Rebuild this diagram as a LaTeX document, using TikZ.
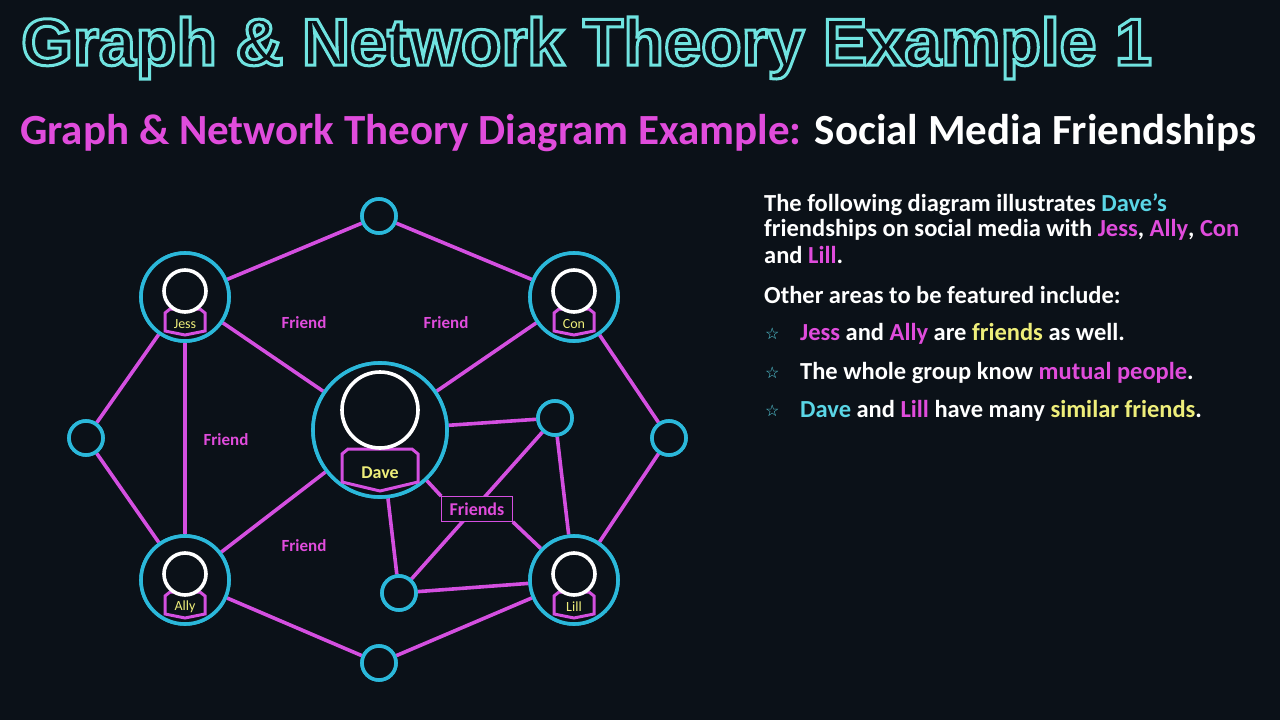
\documentclass[tikz,border=0pt]{standalone}
\usepackage{fontspec}
\setmainfont{Carlito}
\newfontfamily\titlefont{Liberation Sans}
\definecolor{bg}{HTML}{0B1118}
\definecolor{mag}{HTML}{D44FE0}
\definecolor{magt}{HTML}{E04CDC}
\definecolor{cy}{HTML}{2BB8DA}
\definecolor{cyt}{HTML}{5AD6E6}
\definecolor{yel}{HTML}{EEEE7A}
\definecolor{tcy}{HTML}{6FE3E0}
\begin{document}
\begin{tikzpicture}[x=1pt,y=-1pt,
  edge/.style={draw=mag,line width=3.6pt},
  small/.style={circle,draw=cy,line width=3.6pt,minimum size=34pt,inner sep=0pt,fill=bg},
  big/.style={circle,draw=cy,line width=3.6pt,minimum size=88pt,inner sep=0pt,fill=bg},
  huge/.style={circle,draw=cy,line width=3.6pt,minimum size=134pt,inner sep=0pt,fill=bg},
  lbl/.style={text=magt,font=\bfseries\fontsize{17}{19}\selectfont},
  frbox/.style={draw=mag,line width=1pt,fill=bg,text=magt,font=\bfseries\fontsize{18}{20}\selectfont,inner xsep=8pt,inner ysep=6pt}]
\fill[bg] (0,0) rectangle (1280,720);
\useasboundingbox (0,0) rectangle (1280,720);
% title
\node[anchor=west,inner sep=0pt,text=tcy,font=\titlefont\bfseries\fontsize{66.5}{70}\selectfont] (title) at (21,48)
 {\special{pdf:code 1 Tr 3 w 0.44 0.89 0.88 RG}Graph \& Network Theory Example 1\special{pdf:code 0 Tr}};
\node[anchor=west,inner sep=0pt,font=\bfseries\fontsize{43}{46}\selectfont] (sub) at (20,133)
 {\textcolor{magt}{Graph \& Network Theory Diagram Example:} \textcolor{white}{Social Media Friendships}};
% nodes
\node[small] (top) at (379,216) {};
\node[small] (left) at (86,438) {};
\node[small] (right) at (669,438) {};
\node[small] (bot) at (379,663) {};
\node[small] (s1) at (555,418) {};
\node[small] (s2) at (399,593) {};
\node[big] (jess) at (185,297) {};
\node[big] (con) at (574,297) {};
\node[big] (ally) at (185,580) {};
\node[big] (lill) at (574,580) {};
\node[huge] (dave) at (380,430) {};
\node[frbox] (fr) at (477,509) {Friends};
% edges
\foreach \a/\b in {top/jess,top/con,jess/left,left/ally,ally/bot,bot/lill,lill/right,right/con,jess/ally,jess/dave,con/dave,ally/dave,dave/s1,dave/s2,s2/s1,s2/lill,s1/lill}
  \draw[edge] (\a) -- (\b);
\draw[edge] (dave) -- (fr.north west);
\draw[edge] (fr.south east) -- (lill);
\node[frbox] at (477,509) {Friends};
% redraw circles over edges
\foreach \p in {{379,216},{86,438},{669,438},{379,663},{555,418},{399,593}}
  \node[small] at (\p) {};
\foreach \p/\t in {{185,297}/Jess,{574,297}/Con,{185,580}/Ally,{574,580}/Lill}{
  \begin{scope}[shift={(\p)}]
  \node[big] at (0,0) {};
  \draw[mag,line width=3pt] (-20,16) -- (-20,34) -- (0,38) -- (20,34) -- (20,16) -- (15,12) -- (-15,12) -- cycle;
  \draw[white,line width=3.6pt,fill=bg] (0,-6) circle (21);
  \node[text=yel,font=\fontsize{14}{16}\selectfont] at (0,27) {\t};
  \end{scope}}
\begin{scope}[shift={(380,430)}]
  \node[huge] at (0,0) {};
  \draw[mag,line width=3pt] (-38,24) -- (-38,52) -- (0,61) -- (38,52) -- (38,24) -- (32,19) -- (-32,19) -- cycle;
  \draw[white,line width=3.6pt,fill=bg] (0,-20) circle (38);
  \node[text=yel,font=\bfseries\fontsize{18}{20}\selectfont] at (0,43) {Dave};
\end{scope}
% edge labels
\node[lbl] (l1) at (304,323) {Friend};
\node[lbl] (l2) at (446,323) {Friend};
\node[lbl] (l3) at (226,440) {Friend};
\node[lbl] (l4) at (304,546) {Friend};
% right text
\begin{scope}[every node/.style={anchor=west,inner sep=0pt,text=white,font=\bfseries\fontsize{24.5}{26}\selectfont}]
\node (t1) at (764,205) {The following diagram illustrates \textcolor{cyt}{Dave’s}};
\node (t2) at (764,230) {friendships on social media with \textcolor{magt}{Jess}, \textcolor{magt}{Ally}, \textcolor{magt}{Con}};
\node (t3) at (764,255) {and \textcolor{magt}{Lill}.};
\node (t4) at (764,295) {Other areas to be featured include:};
\node (s5) at (765,334) {\fontspec{DejaVu Sans}\fontsize{16}{16}\selectfont\mdseries\textcolor{cyt}{☆}};
\node (s6) at (765,373) {\fontspec{DejaVu Sans}\fontsize{16}{16}\selectfont\mdseries\textcolor{cyt}{☆}};
\node (s7) at (765,411) {\fontspec{DejaVu Sans}\fontsize{16}{16}\selectfont\mdseries\textcolor{cyt}{☆}};
\node (t5) at (800,334) {\textcolor{magt}{Jess} and \textcolor{magt}{Ally} are \textcolor{yel}{friends} as well.};
\node (t6) at (800,373) {The whole group know \textcolor{magt}{mutual people}.};
\node (t7) at (800,411) {\textcolor{cyt}{Dave} and \textcolor{magt}{Lill} have many \textcolor{yel}{similar friends}.};
\end{scope}
\end{tikzpicture}
\end{document}
